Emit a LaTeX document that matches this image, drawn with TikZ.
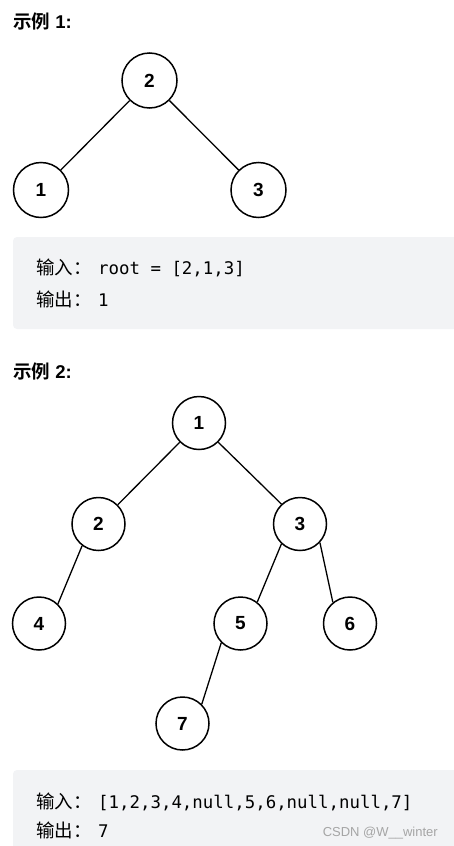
\documentclass[tikz,border=0pt]{standalone}
\usepackage{fontspec}
\setmainfont{Liberation Sans}
\newfontfamily\cjk{Noto Sans CJK SC}
\newfontfamily\cjkb{Noto Sans CJK SC Bold}
\newfontfamily\codefont{DejaVu Sans Mono}
\newfontfamily\lab{Liberation Sans}
\definecolor{codebg}{RGB}{242,243,245}
\definecolor{wm}{RGB}{165,165,165}
\tikzset{
  tn/.style={circle,draw,line width=1.5pt,minimum size=53pt,inner sep=0pt,font=\lab\bfseries\fontsize{19}{19}\selectfont},
  edge/.style={line width=1.3pt},
  title/.style={anchor=base west,inner sep=0pt,font=\fontsize{18.5}{18.5}\selectfont},
  code/.style={anchor=base west,inner sep=0pt,font=\fontsize{17.4}{17.4}\selectfont},
}
\newcommand{\inlab}[1]{\makebox[62pt][l]{\cjk\fontsize{18.5}{18.5}\selectfont #1}}
\begin{document}
\begin{tikzpicture}[x=1pt,y=-1pt]
\useasboundingbox (0,0) rectangle (454,846);
\clip (0,0) rectangle (454,846);
% titles
\node[title] (t1) at (13,28) {{\cjkb 示例} \textbf{1:}};
\node[title] (t2) at (13,378) {{\cjkb 示例} \textbf{2:}};
% tree 1
\node[tn,minimum size=55pt] (a2) at (149.5,80.5) {2};
\node[tn,minimum size=55pt] (a1) at (41,190) {1};
\node[tn,minimum size=55pt] (a3) at (258.5,190) {3};
\draw[edge] (a2) -- (a1);
\draw[edge] (a2) -- (a3);
% box 1
\fill[codebg,rounded corners=4pt] (13,237) rectangle (470,329);
\node[code] (c1) at (36,274) {\inlab{输入：}{\codefont root = [2,1,3]}};
\node[code] (c2) at (36,306) {\inlab{输出：}{\codefont 1}};
% tree 2
\node[tn] (b1) at (199,423) {1};
\node[tn] (b2) at (98.5,524) {2};
\node[tn] (b3) at (300,524) {3};
\node[tn] (b4) at (39,623.5) {4};
\node[tn] (b5) at (240.5,623.5) {5};
\node[tn] (b6) at (350,623.5) {6};
\node[tn] (b7) at (182.5,723.5) {7};
\draw[edge] (b1.225) -- (b2.45);
\draw[edge] (b1.315) -- (b3.133);
\draw[edge] (b2.233) -- (b4.46);
\draw[edge] (b3.227) -- (b5.52);
\draw[edge] (b3.317) -- (b6.129);
\draw[edge] (b5.225) -- (b7.45);
% box 2
\fill[codebg,rounded corners=4pt] (13,770) rectangle (470,870);
\node[code] (c3) at (36,808) {\inlab{输入：}{\codefont [1,2,3,4,null,5,6,null,null,7]}};
\node[code] (c4) at (36,837) {\inlab{输出：}{\codefont 7}};
\node[anchor=base east,inner sep=0pt,text=wm,font=\fontsize{13}{13}\selectfont] (wm) at (438,836) {CSDN @W\_\_winter};
\end{tikzpicture}
\end{document}
